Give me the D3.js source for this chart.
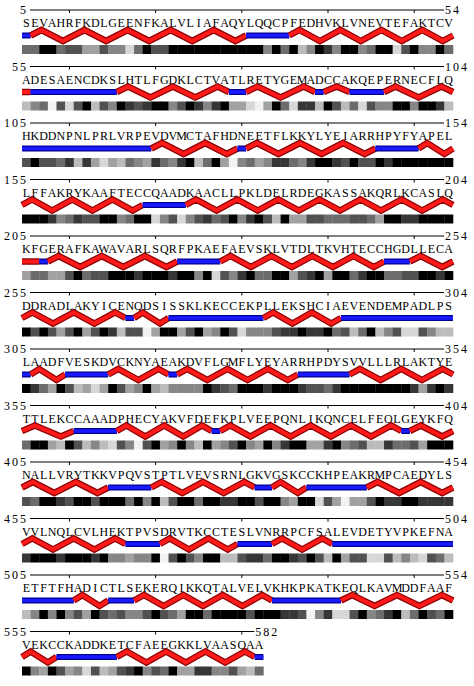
<!DOCTYPE html>
<html>
<head>
<meta charset="utf-8">
<script src="https://cdn.jsdelivr.net/npm/d3@7"></script>
<style>
  body { margin: 0; background: #fff; }
</style>
</head>
<body>
<script>
// sequence, 50 residues per row
var seqRows = [
  "SEVAHRFKDLGEENFKALVLIAFAQYLQQCPFEDHVKLVNEVTEFAKTCV",
  "ADESAENCDKSLHTLFGDKLCTVATLRETYGEMADCCAKQEPERNECFLQ",
  "HKDDNPNLPRLVRPEVDVMCTAFHDNEETFLKKYLYEIARRHPYFYAPEL",
  "LFFAKRYKAAFTECCQAADKAACLLPKLDELRDEGKASSAKQRLKCASLQ",
  "KFGERAFKAWAVARLSQRFPKAEFAEVSKLVTDLTKVHTECCHGDLLECA",
  "DDRADLAKYICENQDSISSKLKECCEKPLLEKSHCIAEVENDEMPADLPS",
  "LAADFVESKDVCKNYAEAKDVFLGMFLYEYARRHPDYSVVLLLRLAKTYE",
  "TTLEKCCAAADPHECYAKVFDEFKPLVEEPQNLIKQNCELFEQLGEYKFQ",
  "NALLVRYTKKVPQVSTPTLVEVSRNLGKVGSKCCKHPEAKRMPCAEDYLS",
  "VVLNQLCVLHEKTPVSDRVTKCCTESLVNRRPCFSALEVDETYVPKEFNA",
  "ETFTFHADICTLSEKERQIKKQTALVELVKHKPKATKEQLKAVMDDFAAF",
  "VEKCCKADDKETCFAEEGKKLVAASQAA"
];
var firstResidue = 5;

// secondary structure runs per row: H = helix, C = coil
var ssRows = [
  [["C",1],["H",25],["C",5],["H",19]],
  [["H",1],["C",10],["H",13],["C",2],["H",8],["C",1],["H",3],["C",4],["H",8]],
  [["C",15],["H",10],["C",1],["H",15],["C",5],["H",4]],
  [["H",14],["C",5],["H",31]],
  [["H",2],["C",1],["H",15],["C",5],["H",19],["C",3],["H",5]],
  [["H",12],["C",1],["H",4],["C",11],["H",9],["C",13]],
  [["C",1],["H",4],["C",5],["H",7],["C",1],["H",14],["C",6],["H",12]],
  [["H",6],["C",5],["H",11],["C",1],["H",21],["C",1],["H",5]],
  [["H",10],["C",5],["H",12],["C",2],["H",4],["C",7],["H",10]],
  [["H",12],["C",4],["H",9],["C",4],["H",7],["C",14]],
  [["C",6],["H",4],["C",3],["H",16],["C",8],["H",13]],
  [["H",4],["C",7],["H",16],["C",1]]
];

// per-residue shade, 0 = white .. 9 = black
var shadeRows = [
  "55995663364415966999999999994959249749945991694495",
  "24506169264976799469747933103951772962516449949972",
  "69665727313254375479259304534775479976966979999999",
  "99974576699459914614675694796293366555665399779999",
  "35533695669997999799491647955993679399579955669979",
  "96963693697266039936934961444677977956259246116422",
  "97539623139634932444497659997999766579999999973797",
  "59932962421640693494293469439479933794562275563999",
  "65997699699959492699599779969943991630336977997777",
  "79997999794434490696499226775997696293661162421652",
  "24949463965644696539959999699977604711694579259659",
  "9439634162367946593377446325"
];

var width = 474, height = 686,
    x0 = 22, x1 = 453,
    rowTop = 10, rowStep = 56.5;

var x = d3.scaleLinear().domain([0, 50]).range([x0, x1]);
var cw = x(1) - x(0);
var shade = d3.scaleLinear().domain([0, 9]).range(["#f2f2f2", "#000000"]);

var svg = d3.select("body").append("svg")
    .attr("width", width)
    .attr("height", height);

seqRows.forEach(function(seq, r) {
  var y = rowTop + r*rowStep,
      n = seq.length,
      start = firstResidue + r*50,
      end = start + n - 1,
      g = svg.append("g").attr("transform", "translate(0," + y + ")");

  // ruler
  var lineEnd = x(n) - 9;
  g.append("line")
      .attr("x1", 30).attr("x2", lineEnd)
      .attr("y1", 0).attr("y2", 0)
      .attr("stroke", "#000").attr("stroke-width", 1);
  d3.range(n).forEach(function(i) {
    if ((start + i) % 10 == 0) {
      g.append("line")
          .attr("x1", x(i + 0.5)).attr("x2", x(i + 0.5))
          .attr("y1", 0).attr("y2", 3)
          .attr("stroke", "#000");
    }
  });
  g.append("text")
      .attr("x", 28).attr("y", 4)
      .attr("text-anchor", "end")
      .attr("font-family", "Liberation Serif")
      .attr("font-size", "12px")
      .attr("letter-spacing", "2px")
      .text(start);
  g.append("text")
      .attr("x", lineEnd + 1).attr("y", 4)
      .attr("font-family", "Liberation Serif")
      .attr("font-size", "12px")
      .attr("letter-spacing", "2px")
      .text(end);

  // residues
  g.selectAll("text.res")
      .data(seq.split(""))
    .enter().append("text")
      .attr("class", "res")
      .attr("x", function(d, i) { return x(i + 0.5); })
      .attr("y", 17)
      .attr("text-anchor", "middle")
      .attr("font-family", "Liberation Serif")
      .attr("font-size", "12px")
      .text(function(d) { return d; });

  // secondary structure
  var mid = 25.5, amp = 5.5, pos = 0;
  ssRows[r].forEach(function(run) {
    var a = x(pos), b = x(pos + run[1]);
    pos += run[1];
    var pts;
    if (run[0] == "H") {
      var nh = Math.round((b - a) / 20.8);
      pts = [[a, mid]];
      if (run[1] > 2 && nh > 0) {
        var h = (b - a) / nh;
        for (var k = 0; k < nh; k++) {
          pts.push([a + (k + 0.5)*h, k % 2 == 0 ? mid - amp : mid + amp]);
        }
      }
      pts.push([b, mid]);
      var line = d3.line();
      g.append("path").attr("d", line(pts))
          .attr("fill", "none").attr("stroke", "#8b0000")
          .attr("stroke-width", 6.5).attr("stroke-linejoin", "miter");
      g.append("path").attr("d", line(pts))
          .attr("fill", "none").attr("stroke", "#ff1a1a")
          .attr("stroke-width", 4).attr("stroke-linejoin", "miter");
    } else {
      g.append("rect")
          .attr("x", a).attr("y", mid - 3)
          .attr("width", b - a).attr("height", 6)
          .attr("fill", "#00008b");
      g.append("rect")
          .attr("x", a).attr("y", mid - 1.8)
          .attr("width", b - a).attr("height", 3.6)
          .attr("fill", "#1a1aff");
    }
  });

  // shade bar
  var shades = shadeRows[r].split("").map(Number);
  while (shades.length < n) shades.push(5);
  shades = shades.slice(0, n);
  g.selectAll("rect.shade")
      .data(shades)
    .enter().append("rect")
      .attr("class", "shade")
      .attr("x", function(d, i) { return x(i); })
      .attr("y", 35)
      .attr("width", cw + 0.3)
      .attr("height", 9)
      .attr("fill", function(d) { return shade(d); });
});
</script>
</body>
</html>
